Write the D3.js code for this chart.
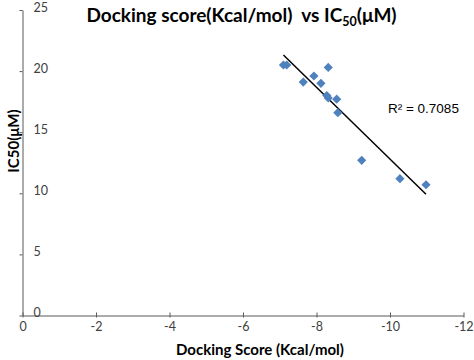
<!DOCTYPE html>
<html><head><meta charset="utf-8">
<script src="https://cdn.jsdelivr.net/npm/d3@7"></script>
<style>body{margin:0;background:#fff}svg{display:block}</style>
</head><body>
<script>
const dockingScore = [-7.10,-7.19,-7.64,-7.93,-8.32,-8.12,-8.28,-8.32,-8.55,-8.58,-9.23,-10.27,-10.98];
const ic50 = [20.5,20.5,19.1,19.6,20.3,19.0,18.0,17.8,17.7,16.6,12.7,11.2,10.7];
const xTicks = [0,-2,-4,-6,-8,-10,-12];
const yTicks = [0,5,10,15,20,25];
const r2Label = "R² = 0.7085";

const W=474,H=360;
const svg=d3.select("body").append("svg").attr("width",W).attr("height",H);
const x=d3.scaleLinear().domain([0,-12]).range([22.5,463.5]);
const y=d3.scaleLinear().domain([0,25]).range([315.5,10]);
const axisCol="#595959", txtCol="#404040";
const fontT="Lato, 'Open Sans', sans-serif";

// axes
const xa=svg.append("g").attr("transform",`translate(0,${y(0)})`)
  .call(d3.axisBottom(x).tickValues(xTicks).tickSize(3).tickSizeOuter(0).tickFormat(d=>d));
xa.select(".domain").attr("stroke",axisCol);
xa.selectAll(".tick line").attr("stroke",axisCol).attr("y1",-3).attr("y2",2);
xa.selectAll(".tick text").attr("fill",txtCol).attr("font-family",fontT).attr("font-size",12.5).attr("dy","0.9em").attr("y",4);

const ya=svg.append("g").attr("transform",`translate(${x(0)},0)`)
  .call(d3.axisLeft(y).tickValues(yTicks).tickSize(3).tickSizeOuter(0));
ya.select(".domain").attr("stroke",axisCol);
ya.selectAll(".tick line").attr("stroke",axisCol);
ya.selectAll(".tick text").attr("fill",txtCol).attr("font-family",fontT).attr("font-size",12.5)
  .attr("text-anchor","start").attr("x",11).attr("dy","0.1em");

// trendline (least squares)
const n=dockingScore.length;
const mx=d3.mean(dockingScore), my=d3.mean(ic50);
let sxy=0,sxx=0;
for(let i=0;i<n;i++){sxy+=(dockingScore[i]-mx)*(ic50[i]-my);sxx+=(dockingScore[i]-mx)**2;}
const b=sxy/sxx, a=my-b*mx;
const [x0,x1]=d3.extent(dockingScore);
svg.append("line").attr("x1",x(x1)).attr("y1",y(a+b*x1)).attr("x2",x(x0)).attr("y2",y(a+b*x0))
  .attr("stroke","#000").attr("stroke-width",1.5);

// points
const sym=d3.symbol().type(d3.symbolSquare).size(42);
svg.append("g").selectAll("path").data(d3.range(n)).join("path")
  .attr("d",sym).attr("fill","#4F81BD")
  .attr("transform",i=>`translate(${x(dockingScore[i])},${y(ic50[i])}) rotate(45)`);

// R2 label
svg.append("text").attr("x",x(-10.91)).attr("y",y(16.55)).attr("text-anchor","middle")
  .attr("font-family","Liberation Sans, Arial, sans-serif").attr("font-size",13.5).attr("fill","#000").text(r2Label);

// title
const t=svg.append("text").attr("x",241.5).attr("y",22).attr("text-anchor","middle")
  .attr("font-family",fontT).attr("font-weight","bold").attr("font-size",19).attr("fill","#000");
t.append("tspan").text("Docking score(Kcal/mol)\u00a0\u00a0vs IC");
t.append("tspan").attr("font-size",12.5).attr("dy",4).text("50");
t.append("tspan").attr("dy",-4).text("(μM)");

svg.append("text").attr("x",260).attr("y",355).attr("text-anchor","middle")
  .attr("font-family",fontT).attr("font-weight","bold").attr("font-size",15).attr("fill","#000")
  .text("Docking Score (Kcal/mol)");
svg.append("text").attr("transform","translate(19,141) rotate(-90)").attr("text-anchor","middle")
  .attr("font-family",fontT).attr("font-weight","bold").attr("font-size",15).attr("fill","#000")
  .text("IC50(μM)");
</script>
</body></html>
